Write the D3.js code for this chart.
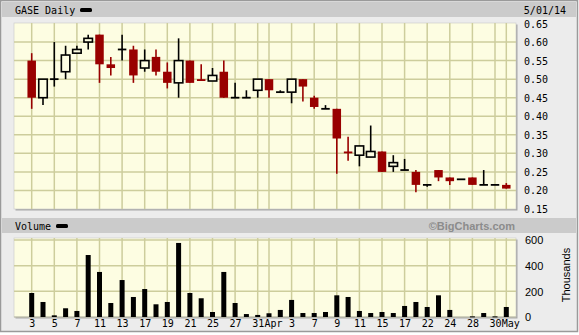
<!DOCTYPE html>
<html>
<head>
<meta charset="utf-8">
<script src="https://cdn.jsdelivr.net/npm/d3@7"></script>
<style>
  body { margin: 0; background: #fff; }
  svg { display: block; }
</style>
</head>
<body>
<div id="chart"></div>
<script>
// GASE daily, 3 Mar - 1 May 2014
const dates = ["03-03","03-04","03-05","03-06","03-07","03-10","03-11","03-12","03-13","03-14",
  "03-17","03-18","03-19","03-20","03-21","03-24","03-25","03-26","03-27","03-28",
  "03-31","04-01","04-02","04-03","04-04","04-07","04-08","04-09","04-10","04-11",
  "04-14","04-15","04-16","04-17","04-21","04-22","04-23","04-24","04-25","04-28",
  "04-29","04-30","05-01"];
const opens  = [.55,.45,.50,.52,.57,.60,.62,.54,.58,.58,.53,.56,.52,.49,.55,.50,.495,.52,.45,.45,
  .47,.50,.465,.465,.50,.45,.42,.42,.305,.295,.29,.305,.265,.255,.25,.215,.255,.235,.23,.235,.215,.215,.215];
const highs  = [.57,.50,.60,.59,.59,.62,.62,.56,.62,.59,.58,.58,.545,.61,.55,.54,.53,.55,.49,.47,
  .50,.50,.47,.50,.50,.455,.43,.42,.345,.32,.375,.305,.295,.285,.255,.215,.255,.235,.23,.235,.255,.215,.22];
const lows   = [.42,.43,.48,.50,.57,.58,.49,.51,.55,.49,.52,.51,.475,.45,.49,.495,.495,.45,.45,.45,
  .45,.45,.465,.435,.44,.42,.42,.245,.28,.265,.29,.25,.25,.255,.195,.21,.225,.215,.23,.215,.215,.215,.205];
const closes = [.45,.50,.50,.565,.58,.61,.54,.53,.58,.51,.55,.52,.49,.55,.49,.495,.51,.45,.45,.45,
  .50,.47,.465,.50,.48,.425,.42,.34,.30,.32,.305,.25,.275,.255,.215,.215,.235,.225,.23,.215,.215,.215,.205];
const volumes = [187,117,13,68,47,483,351,109,288,156,218,99,117,577,187,146,39,351,109,23,
  16,29,55,133,31,31,39,169,156,47,31,39,31,86,117,78,169,55,0,5,31,5,78]; // thousands

const tickDates  = ["03-03","03-05","03-07","03-11","03-13","03-17","03-19","03-21","03-25","03-27",
  "03-31","04-01","04-03","04-07","04-09","04-11","04-15","04-17","04-22","04-24","04-28","04-30","05-01"];
const tickLabels = ["3","5","7","11","13","17","19","21","25","27","31","Apr","3","7","9","11","15","17","22","24","28","30","May"];
const priceTicks = [0.15,0.20,0.25,0.30,0.35,0.40,0.45,0.50,0.55,0.60,0.65];
const volumeTicks = [0,200,400,600];

const W = 579, H = 335;
const red = "#990000";
const cream = "#fdfde2";
const grid = "#cdcd9c";
const mono = "'DejaVu Sans Mono', monospace";
const sans = "'Liberation Sans', Arial, sans-serif";

const data = dates.map((d, i) => ({
    date: d, open: opens[i], high: highs[i], low: lows[i], close: closes[i], volume: volumes[i]
}));

const svg = d3.select("#chart").append("svg")
    .attr("width", W).attr("height", H);

// frame
svg.append("rect").attr("x", 0).attr("y", 0).attr("width", W).attr("height", H).attr("fill", "#fff");
svg.append("rect").attr("x", 0.5).attr("y", 0.5).attr("width", 577).attr("height", 331)
    .attr("fill", "#ececec").attr("stroke", "#9a9a9a").attr("stroke-width", 1.5);

// header bands
svg.append("rect").attr("x", 2).attr("y", 2).attr("width", 574).attr("height", 15).attr("fill", "#cbcbcb");
svg.append("rect").attr("x", 2).attr("y", 218).attr("width", 574).attr("height", 15).attr("fill", "#cbcbcb");

svg.append("text").attr("x", 15).attr("y", 13.5).attr("font-family", mono).attr("font-size", 10)
    .attr("fill", "#000").text("GASE Daily");
svg.append("rect").attr("x", 80).attr("y", 8).attr("width", 12).attr("height", 4).attr("rx", 1.5).attr("fill", "#000");
svg.append("text").attr("x", 566).attr("y", 13.5).attr("text-anchor", "end").attr("font-family", mono)
    .attr("font-size", 10).attr("fill", "#000").text("5/01/14");

svg.append("text").attr("x", 15).attr("y", 229.5).attr("font-family", mono).attr("font-size", 10)
    .attr("fill", "#000").text("Volume");
svg.append("rect").attr("x", 56).attr("y", 224).attr("width", 12).attr("height", 4).attr("rx", 1.5).attr("fill", "#000");
svg.append("text").attr("x", 515).attr("y", 229.5).attr("text-anchor", "end").attr("font-family", sans)
    .attr("font-weight", "bold").attr("font-size", 11).attr("fill", "#8c8c8c").text("\u00A9BigCharts.com");

// plot areas
const px0 = 14, px1 = 516;
const py0 = 23, py1 = 209;
const vy0 = 238, vy1 = 317;

function plotBox(y0, y1) {
    svg.append("rect").attr("x", px0 + 1.5).attr("y", y0 + 1.5).attr("width", px1 - px0).attr("height", y1 - y0)
        .attr("fill", "#a8a8a8");
    svg.append("rect").attr("x", px0).attr("y", y0).attr("width", px1 - px0).attr("height", y1 - y0)
        .attr("fill", cream).attr("stroke", "#c8c8c8").attr("stroke-width", 0.6);
}
plotBox(py0, py1);
plotBox(vy0, vy1);

const x = d3.scalePoint().domain(dates).range([31.7, 506.3]);
const y = d3.scaleLinear().domain([0.15, 0.65]).range([py1, py0 + 0.5]);
const yv = d3.scaleLinear().domain([0, 600]).range([vy1, 240]);

// grid
const gMain = svg.append("g");
gMain.selectAll(".vg").data(tickDates).enter().append("line")
    .attr("x1", d => x(d)).attr("x2", d => x(d)).attr("y1", py0).attr("y2", py1)
    .attr("stroke", grid).attr("stroke-width", 1.5);
gMain.selectAll(".hg").data(priceTicks.slice(1, -1)).enter().append("line")
    .attr("x1", px0).attr("x2", px1).attr("y1", d => y(d)).attr("y2", d => y(d))
    .attr("stroke", grid).attr("stroke-width", 1.5);

const gVol = svg.append("g");
gVol.selectAll(".vg").data(tickDates).enter().append("line")
    .attr("x1", d => x(d)).attr("x2", d => x(d)).attr("y1", vy0).attr("y2", vy1)
    .attr("stroke", grid).attr("stroke-width", 1.5);
gVol.selectAll(".hg").data(volumeTicks.slice(1)).enter().append("line")
    .attr("x1", px0).attr("x2", px1).attr("y1", d => yv(d)).attr("y2", d => yv(d))
    .attr("stroke", grid).attr("stroke-width", 1.5);
svg.append("line").attr("x1", px0).attr("x2", px1).attr("y1", vy1).attr("y2", vy1)
    .attr("stroke", "#b8b8a0").attr("stroke-width", 1.2);

// right axes
const priceAxis = d3.axisRight(y).tickValues(priceTicks).tickSize(0).tickPadding(0)
    .tickFormat(d3.format(".2f"));
svg.append("g").attr("transform", `translate(524,0)`).call(priceAxis)
    .call(g => g.select(".domain").remove())
    .selectAll("text").attr("font-family", mono).attr("font-size", 10).attr("fill", "#000")
    .attr("dy", "0.35em");

const volAxis = d3.axisRight(yv).tickValues(volumeTicks).tickSize(0).tickPadding(0);
svg.append("g").attr("transform", `translate(525,0)`).call(volAxis)
    .call(g => g.select(".domain").remove())
    .selectAll("text").attr("font-family", sans).attr("font-size", 11).attr("fill", "#000")
    .attr("dy", "0.35em");

svg.append("text").attr("transform", "translate(570,275) rotate(-90)").attr("text-anchor", "middle")
    .attr("font-family", sans).attr("font-size", 11).attr("fill", "#000").text("Thousands");

// bottom date labels
const dateAxis = d3.axisBottom(x).tickValues(tickDates).tickSize(0).tickPadding(0)
    .tickFormat((d, i) => tickLabels[i]);
svg.append("g").attr("transform", `translate(0,320)`).call(dateAxis)
    .call(g => g.select(".domain").remove())
    .selectAll("text").attr("font-family", mono).attr("font-size", 10).attr("fill", "#000")
    .attr("dy", "0.71em")
    .attr("text-anchor", d => (d === "04-01" || d === "05-01") ? "start" : "middle")
    .attr("dx", d => (d === "04-01" || d === "05-01") ? -5 : 0);

// candles
const bw = 8.5;
const candles = svg.append("g").selectAll("g").data(data).enter().append("g");

candles.append("line")
    .attr("x1", d => x(d.date)).attr("x2", d => x(d.date))
    .attr("y1", d => y(d.high)).attr("y2", d => y(d.low))
    .attr("stroke", d => d.close < d.open ? red : "#000").attr("stroke-width", 1.6);

candles.filter(d => d.close !== d.open).append("rect")
    .attr("x", d => x(d.date) - bw / 2)
    .attr("y", d => y(Math.max(d.open, d.close)))
    .attr("width", bw)
    .attr("height", d => Math.max(1.5, Math.abs(y(d.open) - y(d.close))))
    .attr("fill", d => d.close < d.open ? red : cream)
    .attr("stroke", d => d.close < d.open ? red : "#000")
    .attr("stroke-width", d => d.close < d.open ? 0 : 1.6);

candles.filter(d => d.close === d.open).append("line")
    .attr("x1", d => x(d.date) - bw / 2).attr("x2", d => x(d.date) + bw / 2)
    .attr("y1", d => y(d.open)).attr("y2", d => y(d.open))
    .attr("stroke", "#000").attr("stroke-width", 1.8);

// volume bars
svg.append("g").selectAll("rect").data(data.filter(d => d.volume > 0)).enter().append("rect")
    .attr("x", d => x(d.date) - 2.5)
    .attr("y", d => yv(d.volume))
    .attr("width", 5)
    .attr("height", d => Math.max(1, vy1 - yv(d.volume)))
    .attr("fill", "#000");
</script>
</body>
</html>
